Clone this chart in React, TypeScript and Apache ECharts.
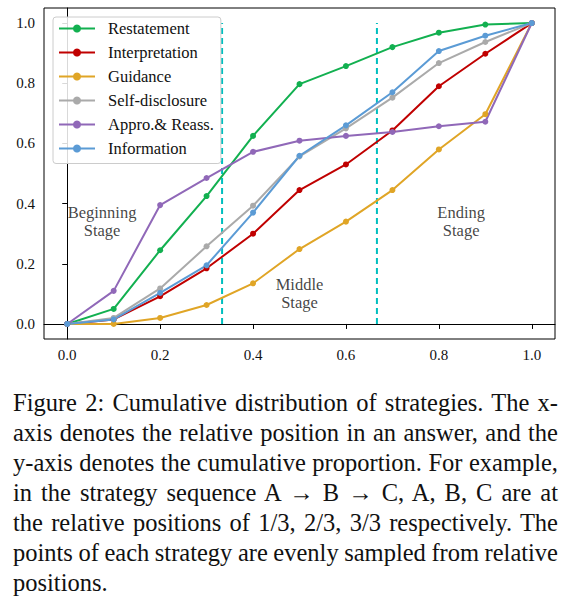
import React, { useEffect, useRef } from 'react';
import * as echarts from 'echarts';

// relative positions (x) shared by every strategy
const positions = [0, 0.1, 0.2, 0.3, 0.4, 0.5, 0.6, 0.7, 0.8, 0.9, 1.0];

const restatement = [0, 0.05, 0.245, 0.425, 0.625, 0.797, 0.857, 0.92, 0.968, 0.995, 1.0];
const interpretation = [0, 0.015, 0.092, 0.185, 0.3, 0.445, 0.53, 0.643, 0.79, 0.898, 1.0];
const guidance = [0, 0.0, 0.02, 0.063, 0.135, 0.249, 0.34, 0.445, 0.58, 0.697, 1.0];
const selfDisclosure = [0, 0.02, 0.118, 0.258, 0.393, 0.557, 0.65, 0.752, 0.867, 0.937, 1.0];
const approReass = [0, 0.11, 0.395, 0.485, 0.572, 0.609, 0.625, 0.638, 0.657, 0.672, 1.0];
const information = [0, 0.015, 0.103, 0.195, 0.37, 0.559, 0.66, 0.77, 0.907, 0.958, 1.0];

const tickValues = [0, 0.2, 0.4, 0.6, 0.8, 1.0];

// stage boundaries and the stage label positions
const stageBounds = [1 / 3, 2 / 3];
const stageLabels = [
  { text: 'Beginning\nStage', x: 0.075, y: 0.34 },
  { text: 'Middle\nStage', x: 0.5, y: 0.1 },
  { text: 'Ending\nStage', x: 0.848, y: 0.34 },
];

const strategies = [
  { name: 'Restatement', data: restatement, color: '#12B050' },
  { name: 'Interpretation', data: interpretation, color: '#C00000' },
  { name: 'Guidance', data: guidance, color: '#E0A526' },
  { name: 'Self-disclosure', data: selfDisclosure, color: '#AAAAAA' },
  { name: 'Appro.& Reass.', data: approReass, color: '#9068B8' },
  { name: 'Information', data: information, color: '#5B9BD5' },
];

const captionLines = [
  'Figure 2: Cumulative distribution of strategies. The x-',
  'axis denotes the relative position in an answer, and the',
  'y-axis denotes the cumulative proportion. For example,',
  'in the strategy sequence A \u2192 B \u2192 C, A, B, C are at',
  'the relative positions of 1/3, 2/3, 3/3 respectively. The',
  'points of each strategy are evenly sampled from relative',
  'positions.',
];

const serif = 'Liberation Serif';

const App: React.FC = () => {
  const chartRef = useRef<HTMLDivElement>(null);

  useEffect(() => {
    if (!chartRef.current) return;
    const chart = echarts.init(chartRef.current, undefined, { renderer: 'svg' });

    const lineSeries = strategies.map(s => ({
      name: s.name,
      type: 'line',
      data: positions.map((x, i) => [x, s.data[i]]),
      symbol: 'circle',
      symbolSize: 6,
      showSymbol: true,
      lineStyle: { color: s.color, width: 2 },
      itemStyle: { color: s.color },
      z: 3,
    }));

    const boundSeries = stageBounds.map((b, i) => ({
      name: 'bound' + i,
      type: 'line',
      data: [[b, 0], [b, 1]],
      symbol: 'none',
      lineStyle: { color: '#00BFBF', width: 2, type: [6, 4] },
      z: 2,
      silent: true,
    }));

    const labelSeries = {
      name: 'stages',
      type: 'scatter',
      symbolSize: 0,
      silent: true,
      data: stageLabels.map(l => ({ value: [l.x, l.y], name: l.text })),
      label: {
        show: true,
        position: 'inside',
        formatter: (p: any) => p.name,
        fontFamily: serif,
        fontSize: 16.5,
        lineHeight: 18,
        color: '#111',
        align: 'center',
      },
    };

    const axisCommon = {
      type: 'value',
      min: -0.05,
      max: 1.05,
      splitLine: { show: false },
      axisLine: { show: true, lineStyle: { color: '#000', width: 1 } },
      axisTick: { show: true, length: 5, customValues: tickValues, lineStyle: { color: '#000' } },
      axisLabel: {
        customValues: tickValues,
        formatter: (v: number) => v.toFixed(1),
        fontFamily: serif,
        fontSize: 15,
        color: '#111',
        margin: 8,
      },
    };

    chart.setOption({
      animation: false,
      grid: {
        left: 44,
        right: 14,
        top: 8,
        bottom: 41,
        show: true,
        borderColor: '#000',
        borderWidth: 1,
        containLabel: false,
      },
      xAxis: { ...axisCommon, axisLabel: { ...axisCommon.axisLabel, margin: 8 } },
      yAxis: { ...axisCommon, axisLabel: { ...axisCommon.axisLabel, margin: 9 } },
      legend: {
        data: strategies.map(s => s.name),
        orient: 'vertical',
        left: 53,
        top: 17,
        itemWidth: 36,
        itemHeight: 10,
        itemGap: 6,
        padding: [2.5, 7, 6, 5],
        backgroundColor: 'rgba(255,255,255,0.85)',
        borderColor: '#CCCCCC',
        borderWidth: 1,
        borderRadius: 3,
        textStyle: {
          fontFamily: serif,
          fontSize: 16.5,
          lineHeight: 18,
          color: '#111',
          padding: [0, 0, 0, 8],
        },
      },
      series: [...boundSeries, ...lineSeries, labelSeries],
    });

    return () => {
      chart.dispose();
    };
  }, []);

  return (
    <div style={{ position: 'absolute', left: 0, top: 0, width: 569, height: 598, background: '#fff' }}>
      <div ref={chartRef} style={{ position: 'absolute', left: 0, top: 0, width: 569, height: 380 }} />
      <div
        style={{
          position: 'absolute',
          left: 13,
          top: 388,
          width: 545,
          fontFamily: '"Liberation Serif", serif',
          fontSize: 24.5,
          lineHeight: '30px',
          wordSpacing: '-3px',
          color: '#111',
        }}
      >
        {captionLines.map((line, i) => (
          <div
            key={i}
            style={{
              whiteSpace: 'nowrap',
              textAlign: 'justify',
              textAlignLast: i < captionLines.length - 1 ? 'justify' : 'left',
            }}
          >
            {line}
          </div>
        ))}
      </div>
    </div>
  );
};

export default App;
